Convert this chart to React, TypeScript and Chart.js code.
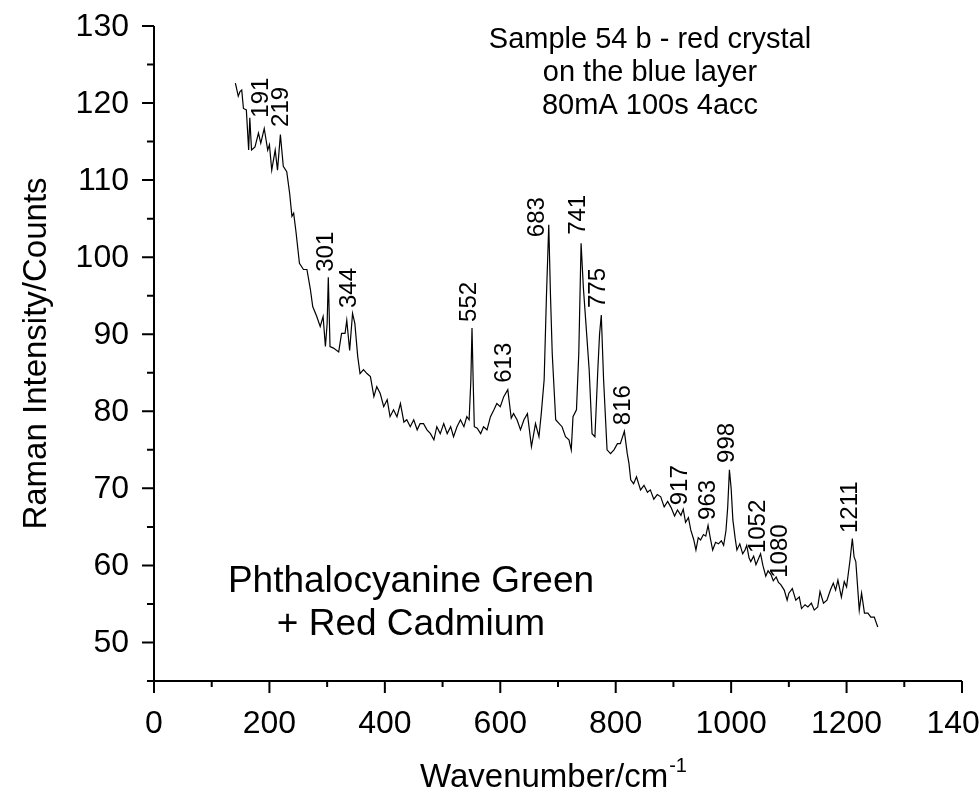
import React, { useEffect, useRef } from "react";
import { Chart, registerables } from "chart.js";

Chart.register(...registerables);

const wavenumbers = [
  141, 146, 149, 152, 155, 160, 164, 166, 169, 175, 181, 185, 191, 197, 200, 204, 210, 214, 219, 224,
  230, 235, 239, 242, 246, 252, 259, 265, 271, 275, 282, 288, 293, 297, 300, 302, 305, 311, 320, 325,
  331, 334, 339, 344, 348, 353, 357, 363, 369, 375, 381, 386, 392, 398, 404, 409, 415, 421, 427, 433,
  438, 444, 450, 456, 461, 467, 473, 479, 485, 490, 496, 502, 508, 514, 519, 525, 531, 537, 542, 546,
  549, 551, 553, 555, 560, 566, 571, 577, 583, 589, 594, 600, 606, 613, 619, 623, 629, 635, 641, 647,
  654, 661, 667, 671, 676, 680, 684, 687, 690, 696, 702, 707, 713, 719, 723, 726, 732, 736, 740, 744,
  748, 754, 759, 764, 769, 772, 775, 779, 785, 791, 797, 803, 808, 815, 820, 823, 826, 831, 836, 843,
  849, 855, 860, 866, 872, 878, 884, 890, 896, 902, 907, 913, 917, 921, 926, 930, 935, 939, 943, 947,
  952, 956, 960, 964, 968, 973, 978, 983, 987, 991, 994, 997, 1000, 1003, 1007, 1010, 1015, 1020, 1024, 1027,
  1031, 1034, 1039, 1043, 1047, 1051, 1055, 1060, 1064, 1069, 1073, 1078, 1082, 1086, 1092, 1097, 1100, 1106, 1112, 1118,
  1122, 1128, 1133, 1139, 1144, 1150, 1154, 1160, 1166, 1172, 1177, 1181, 1185, 1191, 1196, 1200, 1206, 1210, 1213, 1216,
  1222, 1226, 1231, 1237, 1242, 1248, 1254,
];

const intensities = [
  122.6, 120.9, 121.5, 121.7, 119.3, 119.1, 113.9, 118.1, 113.9, 114.3, 116.1, 114.8, 116.7, 113.9, 114.6, 111.3, 113.9, 111.3, 115.9, 111.8,
  111.1, 108.3, 105.3, 105.7, 103.3, 99.2, 98.4, 98.4, 95.8, 93.6, 92.3, 91.0, 92.3, 88.4, 91.4, 97.4, 88.4, 88.2, 87.7, 90.1,
  90.1, 91.8, 87.9, 92.7, 91.4, 87.1, 84.9, 85.4, 84.9, 84.5, 81.9, 83.2, 82.3, 80.6, 81.5, 79.3, 80.2, 79.3, 81.0, 78.6,
  78.9, 78.0, 78.9, 77.6, 78.4, 78.4, 77.6, 77.1, 76.3, 78.0, 77.1, 78.4, 77.1, 78.0, 76.7, 78.0, 78.9, 78.0, 79.3, 78.9,
  84.0, 90.8, 84.0, 78.0, 77.8, 77.1, 78.0, 77.6, 79.3, 80.2, 81.0, 80.6, 81.9, 82.8, 79.1, 79.7, 78.9, 77.6, 78.9, 79.7,
  75.4, 78.4, 76.7, 79.7, 84.1, 95.0, 104.2, 95.0, 87.5, 78.9, 78.4, 78.0, 76.7, 76.3, 75.0, 79.3, 80.2, 87.5, 101.8, 96.0,
  91.8, 85.4, 77.1, 76.7, 85.4, 90.0, 92.5, 84.1, 75.0, 74.5, 75.0, 75.8, 75.8, 77.4, 74.5, 73.2, 71.1, 70.6, 71.5, 69.8,
  70.4, 69.5, 69.8, 68.6, 69.2, 68.9, 67.6, 68.3, 67.5, 66.4, 67.2, 66.5, 67.3, 65.6, 66.2, 64.6, 63.4, 62.0, 63.6, 63.3,
  64.0, 63.8, 65.2, 63.5, 62.0, 63.0, 62.8, 63.2, 62.6, 64.5, 67.5, 72.4, 70.0, 65.9, 63.5, 62.0, 62.8, 61.5, 62.0, 62.6,
  61.0, 60.5, 61.2, 60.1, 60.8, 61.5, 60.0, 58.6, 59.3, 58.8, 58.0, 58.5, 57.8, 57.5, 56.8, 55.5, 56.4, 57.0, 55.5, 55.9,
  54.4, 54.9, 54.6, 55.1, 54.2, 54.6, 56.6, 55.1, 55.5, 56.8, 57.7, 56.8, 58.1, 55.9, 57.9, 57.2, 60.7, 63.5, 61.1, 60.5,
  54.2, 56.4, 53.8, 53.8, 53.3, 53.3, 52.0,
];

const xTicks = [0, 200, 400, 600, 800, 1000, 1200, 1400];
const xMinorTicks = [100, 300, 500, 700, 900, 1100, 1300];
const yTicks = [50, 60, 70, 80, 90, 100, 110, 120, 130];
const yMinorTicks = [45, 55, 65, 75, 85, 95, 105, 115, 125];

const peakNumbers = [191, 219, 301, 344, 552, 613, 683, 741, 775, 816, 917, 963, 998, 1052, 1080, 1211];
const peakLabelX = [184, 219, 297, 337, 545, 605, 663, 734, 769, 812, 911, 958, 991, 1046, 1084, 1204];
const peakLabelY = [118.1, 116.9, 98.1, 93.4, 91.6, 83.7, 102.6, 102.9, 93.4, 78.2, 67.8, 65.9, 73.3, 61.6, 58.4, 64.2];

const infoLines = ["Sample 54 b - red crystal", "on the blue layer", "80mA 100s 4acc"];
const sampleLines = ["Phthalocyanine Green", "+ Red Cadmium"];

const xTitle = "Wavenumber/cm";
const xTitleSup = "-1";
const yTitle = "Raman Intensity/Counts";

const FONT = "'Liberation Sans', Arial, Helvetica, sans-serif";

const axesPlugin = {
  id: "customAxes",
  afterDraw(chart: any) {
    const ctx = chart.ctx as CanvasRenderingContext2D;
    const xs = chart.scales.x;
    const ys = chart.scales.y;
    const area = chart.chartArea;
    ctx.save();
    ctx.strokeStyle = "#000";
    ctx.fillStyle = "#000";
    ctx.lineWidth = 2;
    ctx.lineCap = "butt";
    ctx.beginPath();
    ctx.moveTo(area.left, area.top);
    ctx.lineTo(area.left, area.bottom);
    ctx.moveTo(area.left, area.bottom);
    ctx.lineTo(area.right, area.bottom);
    ctx.stroke();
    ctx.beginPath();
    yTicks.forEach((v) => {
      const y = ys.getPixelForValue(v);
      ctx.moveTo(area.left - 12, y);
      ctx.lineTo(area.left, y);
    });
    yMinorTicks.forEach((v) => {
      const y = ys.getPixelForValue(v);
      ctx.moveTo(area.left - 7, y);
      ctx.lineTo(area.left, y);
    });
    xTicks.forEach((v) => {
      const x = xs.getPixelForValue(v);
      ctx.moveTo(x, area.bottom);
      ctx.lineTo(x, area.bottom + 12);
    });
    xMinorTicks.forEach((v) => {
      const x = xs.getPixelForValue(v);
      ctx.moveTo(x, area.bottom);
      ctx.lineTo(x, area.bottom + 6);
    });
    ctx.stroke();

    ctx.font = `32px ${FONT}`;
    ctx.textAlign = "right";
    ctx.textBaseline = "middle";
    yTicks.forEach((v) => {
      ctx.fillText(String(v), area.left - 25, ys.getPixelForValue(v) + 1);
    });
    ctx.textAlign = "center";
    ctx.textBaseline = "alphabetic";
    xTicks.forEach((v) => {
      ctx.fillText(String(v), xs.getPixelForValue(v), area.bottom + 52);
    });

    ctx.font = `33px ${FONT}`;
    const w1 = ctx.measureText(xTitle).width;
    ctx.font = `20px ${FONT}`;
    const w2 = ctx.measureText(xTitleSup).width;
    const cx = (area.left + area.right) / 2 - 5;
    const startX = cx - (w1 + w2) / 2;
    ctx.textAlign = "left";
    ctx.font = `33px ${FONT}`;
    ctx.fillText(xTitle, startX, area.bottom + 106);
    ctx.font = `20px ${FONT}`;
    ctx.fillText(xTitleSup, startX + w1 + 1, area.bottom + 91);

    ctx.save();
    ctx.translate(46, (area.top + area.bottom) / 2);
    ctx.rotate(-Math.PI / 2);
    ctx.font = `33px ${FONT}`;
    ctx.textAlign = "center";
    ctx.textBaseline = "alphabetic";
    ctx.fillText(yTitle, 0, 0);
    ctx.restore();

    ctx.font = `24px ${FONT}`;
    peakNumbers.forEach((p, i) => {
      const x = xs.getPixelForValue(peakLabelX[i]);
      const y = ys.getPixelForValue(peakLabelY[i]);
      ctx.save();
      ctx.translate(x, y);
      ctx.rotate(-Math.PI / 2);
      ctx.textAlign = "left";
      ctx.textBaseline = "middle";
      ctx.fillText(String(p), 0, 1);
      ctx.restore();
    });

    ctx.textAlign = "center";
    ctx.textBaseline = "alphabetic";
    ctx.font = `29px ${FONT}`;
    infoLines.forEach((t, i) => {
      ctx.fillText(t, 650, 48 + i * 33);
    });
    ctx.font = `37px ${FONT}`;
    sampleLines.forEach((t, i) => {
      ctx.fillText(t, 411, 592 + i * 43);
    });
    ctx.restore();
  },
};

export default function App() {
  const canvasRef = useRef<HTMLCanvasElement | null>(null);
  useEffect(() => {
    if (!canvasRef.current) return;
    const points = wavenumbers.map((w, i) => ({ x: w, y: intensities[i] }));
    const chart = new Chart(canvasRef.current, {
      type: "line",
      data: {
        datasets: [
          {
            data: points,
            borderColor: "#000",
            borderWidth: 1.2,
            pointRadius: 0,
            tension: 0,
            fill: false,
          },
        ],
      },
      options: {
        responsive: false,
        animation: false,
        devicePixelRatio: 1,
        layout: { padding: { left: 154, right: 18, top: 26, bottom: 115 } },
        plugins: { legend: { display: false }, tooltip: { enabled: false } },
        scales: {
          x: { type: "linear", min: 0, max: 1400, display: false },
          y: { type: "linear", min: 45, max: 130, display: false },
        },
      },
      plugins: [axesPlugin],
    });
    return () => chart.destroy();
  }, []);
  return (
    <div style={{ position: "absolute", left: 0, top: 0, width: 980, height: 796, background: "#fff" }}>
      <canvas ref={canvasRef} width={980} height={796} style={{ display: "block" }} />
    </div>
  );
}
